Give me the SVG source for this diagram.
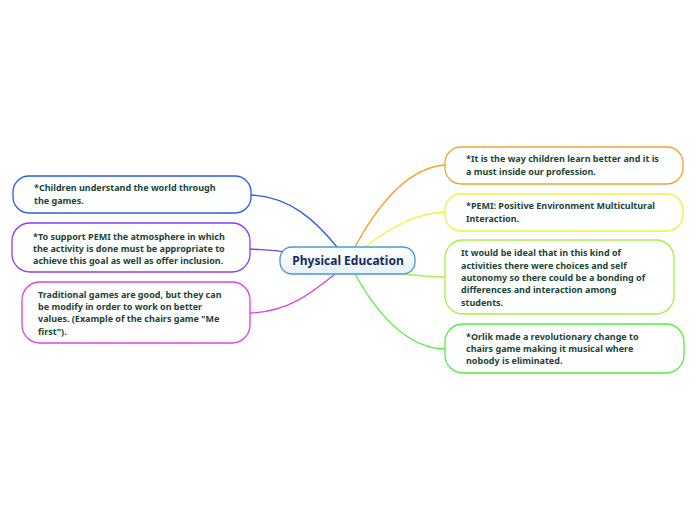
<svg xmlns="http://www.w3.org/2000/svg" width="696" height="520" viewBox="0 0 696 520">
<style>
.n{fill:#fff;stroke-width:1.3}
.t{font-family:"Noto Sans","Open Sans",sans-serif;font-size:9px;font-weight:bold;fill:#1b4536}
.c{fill:none;stroke-width:1.3}
</style>
<defs><linearGradient id="g" x1="0" y1="0" x2="0" y2="1"><stop offset="0" stop-color="#fff"/><stop offset="1" stop-color="#e6f1fa"/></linearGradient></defs>
<rect width="696" height="520" fill="#fff"/>
<g id="connectors">
<path class="c" stroke="#2a5cf0" d="M251,195 C290,197 315,220 337,247"/>
<path class="c" stroke="#8a3cf0" d="M250,249 C265,250 275,250 285,252"/>
<path class="c" stroke="#e040e0" d="M250,313 C290,312 315,290 335,274"/>
<path class="c" stroke="#f5a030" d="M355,247 C375,210 405,168 445,165"/>
<path class="c" stroke="#f0f040" d="M365,247 C390,228 415,213 445,212"/>
<path class="c" stroke="#a8f040" d="M405,274 C420,276 430,277 445,277"/>
<path class="c" stroke="#50f040" d="M355,274 C375,310 405,348 445,349"/>
</g>
<g id="center"><rect x="280" y="247" width="135" height="27" rx="12" fill="url(#g)" stroke="#4a9ad5" stroke-width="1.3"/>
<text x="348" y="265" text-anchor="middle" font-family="'Noto Sans','Open Sans',sans-serif" font-size="12" font-weight="bold" fill="#1a2a5a">Physical Education</text></g>
<g id="l1"><rect class="n" x="13" y="176" width="238" height="37" rx="16" stroke="#2a5cf0"/>
<text class="t" x="34" y="191">*Children understand the world through</text><text class="t" x="34" y="204">the games.</text></g>
<g id="l2"><rect class="n" x="12" y="223" width="238" height="49" rx="18" stroke="#8a3cf0"/>
<text class="t" x="33" y="240">*To support PEMI the atmosphere in which</text><text class="t" x="33" y="252">the activity is done must be appropriate to</text><text class="t" x="33" y="264">achieve this goal as well as offer inclusion.</text></g>
<g id="l3"><rect class="n" x="22" y="282" width="228" height="61" rx="18" stroke="#e040e0"/>
<text class="t" x="38" y="298">Traditional games are good, but they can</text><text class="t" x="38" y="310">be modify in order to work on better</text><text class="t" x="38" y="322">values. (Example of the chairs game "Me</text><text class="t" x="38" y="335">first").</text></g>
<g id="r1"><rect class="n" x="445" y="147" width="238" height="37" rx="16" stroke="#f5a030"/>
<text class="t" x="466" y="162">*It is the way children learn better and it is</text><text class="t" x="466" y="175">a must inside our profession.</text></g>
<g id="r2"><rect class="n" x="445" y="194" width="238" height="37" rx="16" stroke="#f0f040"/>
<text class="t" x="466" y="209">*PEMI: Positive Environment Multicultural</text><text class="t" x="466" y="222">Interaction.</text></g>
<g id="r3"><rect class="n" x="445" y="240" width="229" height="74" rx="18" stroke="#a8f040"/>
<text class="t" x="461" y="256">It would be ideal that in this kind of</text><text class="t" x="461" y="269">activities there were choices and self</text><text class="t" x="461" y="281">autonomy so there could be a bonding of</text><text class="t" x="461" y="293">differences and interaction among</text><text class="t" x="461" y="306">students.</text></g>
<g id="r4"><rect class="n" x="445" y="324" width="239" height="49" rx="18" stroke="#50f040"/>
<text class="t" x="466" y="340">*Orlik made a revolutionary change to</text><text class="t" x="466" y="352">chairs game making it musical where</text><text class="t" x="466" y="364">nobody is eliminated.</text></g>
</svg>
